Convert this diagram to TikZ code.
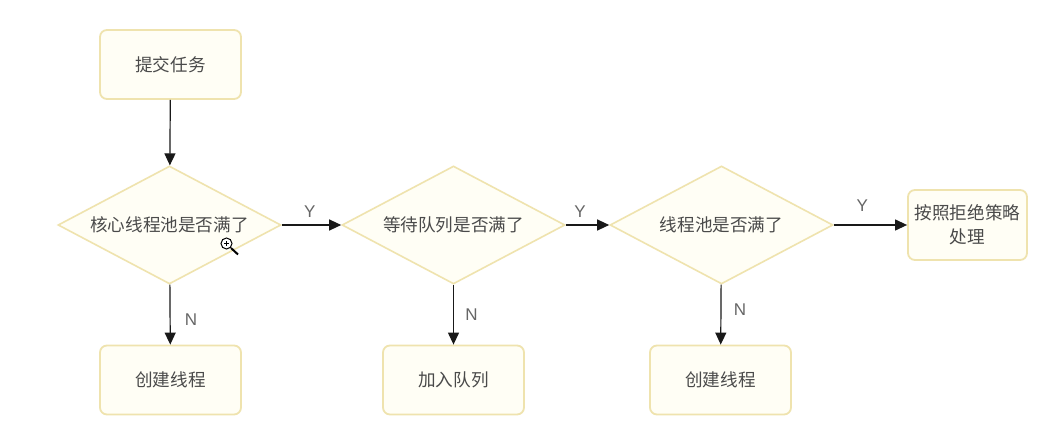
\documentclass[tikz,border=0pt]{standalone}
\usepackage{fontspec}
\setmainfont{Liberation Sans}
\newfontfamily\cjk{Noto Sans CJK SC}
\usetikzlibrary{shapes.geometric,arrows.meta}
\definecolor{edgeY}{HTML}{EFE3AE}
\definecolor{fillY}{HTML}{FFFEF5}
\definecolor{inkC}{HTML}{4A4A4A}
\definecolor{lblC}{HTML}{666666}
\tikzset{
  x=1pt,y=-1pt,
  cjktext/.style={font=\cjk\fontsize{17.6}{24}\selectfont,text=inkC,align=center},
  boxn/.style={cjktext,draw=edgeY,fill=fillY,line width=1.8pt,rounded corners=7pt,inner sep=0pt,minimum height=69pt,minimum width=141pt},
  diam/.style={cjktext,diamond,draw=edgeY,fill=fillY,line width=1.6pt,inner sep=0pt,aspect=1.89,minimum width=223pt,minimum height=118pt},
  flow/.style={draw=black!90,line width=1.2pt,-{Triangle[length=12pt,width=11pt]},shorten >=0pt},
  lbl/.style={font=\fontsize{17}{18}\selectfont,text=lblC,inner sep=0pt},
}
\begin{document}
\begin{tikzpicture}
\useasboundingbox[fill=white] (0,0) rectangle (1058,443);
\node[boxn] (start) at (170.5,64.5) {提交任务};
\node[diam] (d1) at (169.5,225) {核心线程池是否满了};
\node[diam] (d2) at (453.5,225) {等待队列是否满了};
\node[diam] (d3) at (721.5,225) {线程池是否满了};
\node[boxn,minimum width=119pt,minimum height=70pt] (rej) at (967.5,225) {按照拒绝策略\\处理};
\node[boxn] (b1) at (170.5,380) {创建线程};
\node[boxn] (b2) at (453.5,380) {加入队列};
\node[boxn] (b3) at (720.5,380) {创建线程};
\draw[flow] (start) -- (d1);
\draw[flow] (d1) -- node[lbl,pos=0.47,yshift=13pt] {Y} (d2);
\draw[flow] (d2) -- node[lbl,pos=0.33,yshift=13pt] {Y} (d3);
\draw[flow] (d3) -- node[lbl,pos=0.39,yshift=19pt] {Y} (rej);
\draw[flow] (d1) -- node[lbl,pos=0.59,xshift=21pt] {N} (b1);
\draw[flow] (d2) -- node[lbl,pos=0.5,xshift=18pt] {N} (b2);
\draw[flow] (d3) -- node[lbl,pos=0.41,xshift=19pt] {N} (b3);
% cursor icon shown over the picture
\draw[black,line width=1pt,fill=white] (226.5,243.5) circle (5.5pt);
\draw[black,line width=1.2pt] (224,243.5) -- (229,243.5) (226.5,241) -- (226.5,246);
\draw[black,line width=2pt] (231,248) -- (238,254.5);
\end{tikzpicture}
\end{document}
